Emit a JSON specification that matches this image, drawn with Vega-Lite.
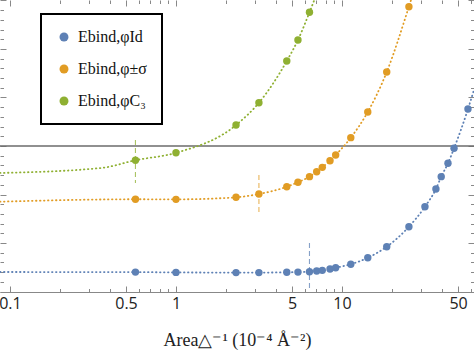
{
  "$schema": "https://vega.github.io/schema/vega-lite/v6.json",
  "width": 474,
  "height": 292,
  "autosize": {"type": "none"},
  "padding": {"left": 0, "top": 0, "right": 0, "bottom": 61},
  "background": "white",
  "config": {
    "view": {"stroke": null},
    "legend": {"strokeWidth": 2}
  },
  "datasets": {
    "pts": [
      {"s": "Ebind,φId", "x": 0.57, "y": -13.0},
      {"s": "Ebind,φId", "x": 1, "y": -13.03},
      {"s": "Ebind,φId", "x": 2.3, "y": -13.05},
      {"s": "Ebind,φId", "x": 3.16, "y": -13.05},
      {"s": "Ebind,φId", "x": 4.65, "y": -13.02},
      {"s": "Ebind,φId", "x": 5.43, "y": -13.0},
      {"s": "Ebind,φId", "x": 6.37, "y": -12.96},
      {"s": "Ebind,φId", "x": 7.04, "y": -12.88},
      {"s": "Ebind,φId", "x": 7.61, "y": -12.82},
      {"s": "Ebind,φId", "x": 8.47, "y": -12.68},
      {"s": "Ebind,φId", "x": 9.16, "y": -12.55},
      {"s": "Ebind,φId", "x": 11.3, "y": -12.19},
      {"s": "Ebind,φId", "x": 14.3, "y": -11.52},
      {"s": "Ebind,φId", "x": 18.6, "y": -10.38},
      {"s": "Ebind,φId", "x": 25.3, "y": -8.32},
      {"s": "Ebind,φId", "x": 31.6, "y": -6.26},
      {"s": "Ebind,φId", "x": 36.8, "y": -4.43},
      {"s": "Ebind,φId", "x": 39.6, "y": -3.16},
      {"s": "Ebind,φId", "x": 43.5, "y": -1.78},
      {"s": "Ebind,φId", "x": 47.3, "y": -0.24},
      {"s": "Ebind,φId", "x": 57.4, "y": 3.81},
      {"s": "Ebind,φ±σ", "x": 0.57, "y": -5.49},
      {"s": "Ebind,φ±σ", "x": 1, "y": -5.5},
      {"s": "Ebind,φ±σ", "x": 2.3, "y": -5.29},
      {"s": "Ebind,φ±σ", "x": 3.16, "y": -4.95},
      {"s": "Ebind,φ±σ", "x": 4.65, "y": -4.2},
      {"s": "Ebind,φ±σ", "x": 5.43, "y": -3.74},
      {"s": "Ebind,φ±σ", "x": 6.37, "y": -3.16},
      {"s": "Ebind,φ±σ", "x": 7.04, "y": -2.66},
      {"s": "Ebind,φ±σ", "x": 7.61, "y": -2.2},
      {"s": "Ebind,φ±σ", "x": 8.47, "y": -1.52},
      {"s": "Ebind,φ±σ", "x": 9.16, "y": -0.93},
      {"s": "Ebind,φ±σ", "x": 11.3, "y": 0.86},
      {"s": "Ebind,φ±σ", "x": 14.3, "y": 3.51},
      {"s": "Ebind,φ±σ", "x": 18.6, "y": 7.63},
      {"s": "Ebind,φ±σ", "x": 25.3, "y": 14.36},
      {"s": "Ebind,φC₃", "x": 0.57, "y": -1.47},
      {"s": "Ebind,φC₃", "x": 1, "y": -0.7},
      {"s": "Ebind,φC₃", "x": 2.3, "y": 2.16},
      {"s": "Ebind,φC₃", "x": 3.16, "y": 4.46},
      {"s": "Ebind,φC₃", "x": 4.65, "y": 8.76},
      {"s": "Ebind,φC₃", "x": 5.43, "y": 10.93},
      {"s": "Ebind,φC₃", "x": 6.37, "y": 13.78}
    ],
    "curves": [
      {"s": "Ebind,φId", "x": 0.0871, "y": -12.99},
      {"s": "Ebind,φId", "x": 0.57, "y": -13.0},
      {"s": "Ebind,φId", "x": 1, "y": -13.03},
      {"s": "Ebind,φId", "x": 2.3, "y": -13.05},
      {"s": "Ebind,φId", "x": 3.16, "y": -13.05},
      {"s": "Ebind,φId", "x": 4.65, "y": -13.02},
      {"s": "Ebind,φId", "x": 5.43, "y": -13.0},
      {"s": "Ebind,φId", "x": 6.37, "y": -12.96},
      {"s": "Ebind,φId", "x": 7.04, "y": -12.88},
      {"s": "Ebind,φId", "x": 7.61, "y": -12.82},
      {"s": "Ebind,φId", "x": 8.47, "y": -12.68},
      {"s": "Ebind,φId", "x": 9.16, "y": -12.55},
      {"s": "Ebind,φId", "x": 11.3, "y": -12.19},
      {"s": "Ebind,φId", "x": 14.3, "y": -11.52},
      {"s": "Ebind,φId", "x": 18.6, "y": -10.38},
      {"s": "Ebind,φId", "x": 25.3, "y": -8.32},
      {"s": "Ebind,φId", "x": 31.6, "y": -6.26},
      {"s": "Ebind,φId", "x": 36.8, "y": -4.43},
      {"s": "Ebind,φId", "x": 39.6, "y": -3.16},
      {"s": "Ebind,φId", "x": 43.5, "y": -1.78},
      {"s": "Ebind,φId", "x": 47.3, "y": -0.24},
      {"s": "Ebind,φId", "x": 57.4, "y": 3.81},
      {"s": "Ebind,φId", "x": 62.4, "y": 5.8},
      {"s": "Ebind,φ±σ", "x": 0.0871, "y": -5.74},
      {"s": "Ebind,φ±σ", "x": 0.57, "y": -5.49},
      {"s": "Ebind,φ±σ", "x": 1, "y": -5.5},
      {"s": "Ebind,φ±σ", "x": 2.3, "y": -5.29},
      {"s": "Ebind,φ±σ", "x": 3.16, "y": -4.95},
      {"s": "Ebind,φ±σ", "x": 4.65, "y": -4.2},
      {"s": "Ebind,φ±σ", "x": 5.43, "y": -3.74},
      {"s": "Ebind,φ±σ", "x": 6.37, "y": -3.16},
      {"s": "Ebind,φ±σ", "x": 7.04, "y": -2.66},
      {"s": "Ebind,φ±σ", "x": 7.61, "y": -2.2},
      {"s": "Ebind,φ±σ", "x": 8.47, "y": -1.52},
      {"s": "Ebind,φ±σ", "x": 9.16, "y": -0.93},
      {"s": "Ebind,φ±σ", "x": 11.3, "y": 0.86},
      {"s": "Ebind,φ±σ", "x": 14.3, "y": 3.51},
      {"s": "Ebind,φ±σ", "x": 18.6, "y": 7.63},
      {"s": "Ebind,φ±σ", "x": 25.3, "y": 14.36},
      {"s": "Ebind,φ±σ", "x": 27.5, "y": 16.3},
      {"s": "Ebind,φC₃", "x": 0.0871, "y": -2.78},
      {"s": "Ebind,φC₃", "x": 0.353, "y": -2.27},
      {"s": "Ebind,φC₃", "x": 0.57, "y": -1.47},
      {"s": "Ebind,φC₃", "x": 1, "y": -0.7},
      {"s": "Ebind,φC₃", "x": 2.3, "y": 2.16},
      {"s": "Ebind,φC₃", "x": 3.16, "y": 4.46},
      {"s": "Ebind,φC₃", "x": 4.65, "y": 8.76},
      {"s": "Ebind,φC₃", "x": 5.43, "y": 10.93},
      {"s": "Ebind,φC₃", "x": 6.37, "y": 13.78},
      {"s": "Ebind,φC₃", "x": 6.97, "y": 15.5}
    ],
    "marks": [
      {"s": "Ebind,φC₃", "x": 0.57, "y": 0.62, "y2": -3.81},
      {"s": "Ebind,φ±σ", "x": 3.16, "y": -2.99, "y2": -6.91},
      {"s": "Ebind,φId", "x": 6.37, "y": -10.0, "y2": -14.85}
    ],
    "zero": [{"y": 0}]
  },
  "layer": [
    {
      "data": {"name": "zero"},
      "mark": {"type": "rule", "color": "#6b6b6b", "strokeWidth": 1.3},
      "encoding": {
        "y": {"field": "y", "type": "quantitative", "scale": {"domain": [-15.05, 15.05], "nice": false, "zero": false}, "axis": null}
      }
    },
    {
      "data": {"name": "marks"},
      "mark": {"type": "rule", "strokeDash": [5, 3], "strokeWidth": 1.1, "opacity": 0.75},
      "encoding": {
        "x": {"field": "x", "type": "quantitative",
          "scale": {"type": "log", "domain": [0.0871, 62.4], "nice": false},
          "axis": {"orient": "top", "title": null, "labels": false, "domain": false, "grid": false,
            "values": [0.1,0.2,0.3,0.4,0.5,0.6,0.7,0.8,0.9,1,2,3,4,5,6,7,8,9,10,20,30,40,50,60],
            "tickColor": "#888",
            "tickSize": {"condition": {"test": "indexof([0.1,0.5,1,5,10,50], datum.value) >= 0", "value": -6}, "value": -3.5}}},
        "y": {"field": "y", "type": "quantitative", "scale": {"domain": [-15.05, 15.05], "nice": false, "zero": false},
          "axis": {"orient": "right", "title": null, "labels": false, "domain": false, "grid": false,
            "values": [-15,-14,-13,-12,-11,-10,-9,-8,-7,-6,-5,-4,-3,-2,-1,0,1,2,3,4,5,6,7,8,9,10,11,12,13,14,15],
            "tickColor": "#888",
            "tickSize": {"condition": {"test": "datum.value % 5 == 0", "value": -6}, "value": -3.5}}},
        "y2": {"field": "y2"},
        "color": {"field": "s", "type": "nominal", "legend": null,
          "scale": {"domain": ["Ebind,φId", "Ebind,φ±σ", "Ebind,φC₃"], "range": ["#5E81B5", "#E19C24", "#8FB032"]}}
      }
    },
    {
      "data": {"name": "curves"},
      "mark": {"type": "line", "clip": true, "interpolate": "monotone", "strokeDash": [0.5, 3.5], "strokeCap": "round", "strokeWidth": 1.8},
      "encoding": {
        "x": {"field": "x", "type": "quantitative", "scale": {"type": "log", "domain": [0.0871, 62.4], "nice": false}, "axis": null},
        "y": {"field": "y", "type": "quantitative", "scale": {"domain": [-15.05, 15.05], "nice": false, "zero": false}, "axis": null},
        "color": {"field": "s", "type": "nominal", "legend": null,
          "scale": {"domain": ["Ebind,φId", "Ebind,φ±σ", "Ebind,φC₃"], "range": ["#5E81B5", "#E19C24", "#8FB032"]}}
      }
    },
    {
      "data": {"name": "pts"},
      "mark": {"type": "circle", "clip": true, "size": 55, "opacity": 1},
      "encoding": {
        "x": {"field": "x", "type": "quantitative",
          "scale": {"type": "log", "domain": [0.0871, 62.4], "nice": false},
          "axis": {"orient": "bottom", "title": "Area△⁻¹ (10⁻⁴ Å⁻²)", "grid": false,
            "values": [0.1,0.2,0.3,0.4,0.5,0.6,0.7,0.8,0.9,1,2,3,4,5,6,7,8,9,10,20,30,40,50,60],
            "labelExpr": "indexof([0.1,0.5,1,5,10,50], datum.value) >= 0 ? format(datum.value, '~g') : ''",
            "labelFont": "Open Sans", "labelFontSize": 16, "labelColor": "#222", "labelPadding": 9,
            "labelFlush": false, "labelOverlap": false,
            "domainColor": "#888", "tickColor": "#888",
            "tickSize": {"condition": {"test": "indexof([0.1,0.5,1,5,10,50], datum.value) >= 0", "value": -6}, "value": -3.5},
            "titleFont": "Liberation Serif", "titleFontSize": 18, "titleFontWeight": "normal", "titleColor": "#222", "titlePadding": 18}},
        "y": {"field": "y", "type": "quantitative", "scale": {"domain": [-15.05, 15.05], "nice": false, "zero": false},
          "axis": {"orient": "left", "title": null, "labels": false, "domain": false, "grid": false,
            "values": [-15,-14,-13,-12,-11,-10,-9,-8,-7,-6,-5,-4,-3,-2,-1,0,1,2,3,4,5,6,7,8,9,10,11,12,13,14,15],
            "tickColor": "#888",
            "tickSize": {"condition": {"test": "datum.value % 5 == 0", "value": -6}, "value": -3.5}}},
        "color": {"field": "s", "type": "nominal",
          "scale": {"domain": ["Ebind,φId", "Ebind,φ±σ", "Ebind,φC₃"], "range": ["#5E81B5", "#E19C24", "#8FB032"]},
          "legend": {"orient": "none", "legendX": 41, "legendY": 14, "title": null,
            "strokeColor": "black", "fillColor": "white", "padding": 15,
            "symbolType": "circle", "symbolSize": 80, "symbolStrokeWidth": 0,
            "labelFont": "Liberation Serif", "labelFontSize": 16, "labelColor": "#111", "labelOffset": 6,
            "rowPadding": 16}}
      }
    }
  ],
  "resolve": {"axis": {"x": "independent", "y": "independent"}, "legend": {"color": "independent"}}
}
